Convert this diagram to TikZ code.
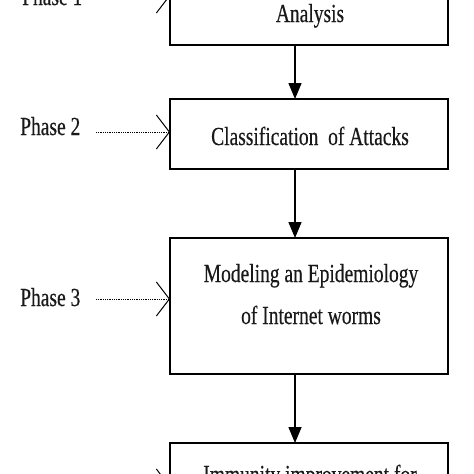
\documentclass[tikz,border=0pt]{standalone}
\usepackage{fontspec}
\newfontfamily\tf[FakeStretch=0.75,FakeBold=0.4]{Liberation Serif}
\usetikzlibrary{arrows.meta}
\begin{document}
\begin{tikzpicture}[x=1pt,y=-1pt,
  box/.style={draw, line width=1.3pt, minimum width=278pt, inner sep=0pt, outer sep=0pt},
  txt/.style={font=\tf\fontsize{26}{42}\selectfont, inner sep=0pt, anchor=base, text=black!90},
  phase/.style={font=\tf\fontsize{26}{42}\selectfont, inner sep=0pt, anchor=base west, text=black!90},
  flow/.style={line width=1.5pt, -{Triangle[length=16pt,width=13pt]}},
  phasearrow/.style={line width=1pt, dash pattern=on 1pt off 0.8pt, -{Straight Barb[length=13pt,width=34pt,line width=1pt]}}
]
\fill[white] (0,0) rectangle (474,474);
\useasboundingbox (0,0) rectangle (474,474);
\clip (0,0) rectangle (474,474);

% boxes
\node[box, minimum height=130pt] (b1) at (309,-20) {};
\node[box, minimum height=70pt] (b2) at (309,134) {};
\node[box, minimum height=136pt] (b3) at (309,306) {};
\node[box, minimum height=120pt] (b4) at (309,503) {};

% box texts
\node[txt] (t1) at (310,22) {Analysis};
\node[txt] (t2) at (310,145) {Classification\ \ of Attacks};
\node[txt] (t3a) at (311,282) {Modeling an Epidemiology};
\node[txt] (t3b) at (311,324) {of Internet worms};
\node[txt] (t4) at (310,483) {Immunity improvement for};

% flow arrows
\coordinate (ax) at (295,0);
\draw[flow] (b1.south -| ax) -- (b2.north -| ax);
\draw[flow] (b2.south -| ax) -- (b3.north -| ax);
\draw[flow] (b3.south -| ax) -- (b4.north -| ax);

% phase labels
\node[phase] (p1) at (22,5) {Phase 1};
\node[phase] (p2) at (20,135) {Phase 2};
\node[phase] (p3) at (20,306) {Phase 3};

\coordinate (s1) at (96,-4);
\coordinate (s2) at (96,132);
\coordinate (s3) at (96,299);
\coordinate (s4) at (96,486);
\draw[phasearrow] (s1) -- (s1 -| b1.west);
\draw[phasearrow] (s2) -- (s2 -| b2.west);
\draw[phasearrow] (s3) -- (s3 -| b3.west);
\draw[phasearrow] (s4) -- (s4 -| b4.west);
\end{tikzpicture}
\end{document}
